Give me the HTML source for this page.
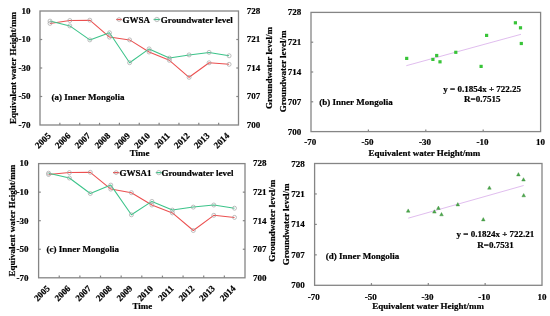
<!DOCTYPE html>
<html><head><meta charset="utf-8"><style>
html,body{margin:0;padding:0;background:#fff;width:550px;height:316px;overflow:hidden}
svg{display:block;will-change:transform}
text{font-family:"Liberation Serif", serif;font-weight:bold;fill:#000;stroke:#000;stroke-width:0.2px}
</style></head><body>
<svg width="550" height="316" viewBox="0 0 550 316">
<rect width="550" height="316" fill="#fff"/>
<rect x="40.00" y="11.00" width="198.50" height="114.00" fill="none" stroke="#858585" stroke-width="1.3"/>
<line x1="40.00" y1="39.50" x2="42.20" y2="39.50" stroke="#858585" stroke-width="1.2"/>
<line x1="236.30" y1="39.50" x2="238.50" y2="39.50" stroke="#858585" stroke-width="1.2"/>
<line x1="40.00" y1="68.00" x2="42.20" y2="68.00" stroke="#858585" stroke-width="1.2"/>
<line x1="236.30" y1="68.00" x2="238.50" y2="68.00" stroke="#858585" stroke-width="1.2"/>
<line x1="40.00" y1="96.50" x2="42.20" y2="96.50" stroke="#858585" stroke-width="1.2"/>
<line x1="236.30" y1="96.50" x2="238.50" y2="96.50" stroke="#858585" stroke-width="1.2"/>
<line x1="59.85" y1="122.80" x2="59.85" y2="125.00" stroke="#858585" stroke-width="1.2"/>
<line x1="79.70" y1="122.80" x2="79.70" y2="125.00" stroke="#858585" stroke-width="1.2"/>
<line x1="99.55" y1="122.80" x2="99.55" y2="125.00" stroke="#858585" stroke-width="1.2"/>
<line x1="119.40" y1="122.80" x2="119.40" y2="125.00" stroke="#858585" stroke-width="1.2"/>
<line x1="139.25" y1="122.80" x2="139.25" y2="125.00" stroke="#858585" stroke-width="1.2"/>
<line x1="159.10" y1="122.80" x2="159.10" y2="125.00" stroke="#858585" stroke-width="1.2"/>
<line x1="178.95" y1="122.80" x2="178.95" y2="125.00" stroke="#858585" stroke-width="1.2"/>
<line x1="198.80" y1="122.80" x2="198.80" y2="125.00" stroke="#858585" stroke-width="1.2"/>
<line x1="218.65" y1="122.80" x2="218.65" y2="125.00" stroke="#858585" stroke-width="1.2"/>
<text x="30.50" y="13.80" text-anchor="end" font-size="9" >10</text>
<text x="30.50" y="42.30" text-anchor="end" font-size="9" >-10</text>
<text x="30.50" y="70.80" text-anchor="end" font-size="9" >-30</text>
<text x="30.50" y="99.30" text-anchor="end" font-size="9" >-50</text>
<text x="30.50" y="127.80" text-anchor="end" font-size="9" >-70</text>
<text x="246.80" y="13.80" text-anchor="start" font-size="9" >728</text>
<text x="246.80" y="42.30" text-anchor="start" font-size="9" >721</text>
<text x="246.80" y="70.80" text-anchor="start" font-size="9" >714</text>
<text x="246.80" y="99.30" text-anchor="start" font-size="9" >707</text>
<text x="246.80" y="127.80" text-anchor="start" font-size="9" >700</text>
<text x="16.20" y="68.00" text-anchor="middle" font-size="9" transform="rotate(-90 16.20 68.00)">Equivalent water Height/mm</text>
<text x="272.20" y="68.00" text-anchor="middle" font-size="9" transform="rotate(-90 272.20 68.00)">Groundwater level/m</text>
<text x="51.32" y="136.30" text-anchor="end" font-size="9" transform="rotate(-45 51.32 136.30)">2005</text>
<text x="71.18" y="136.30" text-anchor="end" font-size="9" transform="rotate(-45 71.18 136.30)">2006</text>
<text x="91.03" y="136.30" text-anchor="end" font-size="9" transform="rotate(-45 91.03 136.30)">2007</text>
<text x="110.88" y="136.30" text-anchor="end" font-size="9" transform="rotate(-45 110.88 136.30)">2008</text>
<text x="130.72" y="136.30" text-anchor="end" font-size="9" transform="rotate(-45 130.72 136.30)">2009</text>
<text x="150.58" y="136.30" text-anchor="end" font-size="9" transform="rotate(-45 150.58 136.30)">2010</text>
<text x="170.43" y="136.30" text-anchor="end" font-size="9" transform="rotate(-45 170.43 136.30)">2011</text>
<text x="190.28" y="136.30" text-anchor="end" font-size="9" transform="rotate(-45 190.28 136.30)">2012</text>
<text x="210.12" y="136.30" text-anchor="end" font-size="9" transform="rotate(-45 210.12 136.30)">2013</text>
<text x="229.97" y="136.30" text-anchor="end" font-size="9" transform="rotate(-45 229.97 136.30)">2014</text>
<text x="139.60" y="156.20" text-anchor="middle" font-size="9" >Time</text>
<polyline points="50.00,23.40 69.80,20.50 89.80,20.20 109.50,37.10 129.60,39.90 149.10,52.00 169.40,60.30 189.10,77.30 209.10,62.80 229.10,64.30" fill="none" stroke="#ec5050" stroke-width="1.05" stroke-linejoin="round"/>
<polyline points="50.00,21.10 69.80,25.90 89.80,39.90 109.50,32.80 129.60,62.70 149.10,48.90 169.40,58.10 189.10,54.90 209.10,52.40 229.10,55.80" fill="none" stroke="#3cc48a" stroke-width="1.05" stroke-linejoin="round"/>
<circle cx="50.00" cy="23.40" r="2.0" fill="none" stroke="#a4a4a4" stroke-width="0.7"/>
<circle cx="69.80" cy="20.50" r="2.0" fill="none" stroke="#a4a4a4" stroke-width="0.7"/>
<circle cx="89.80" cy="20.20" r="2.0" fill="none" stroke="#a4a4a4" stroke-width="0.7"/>
<circle cx="109.50" cy="37.10" r="2.0" fill="none" stroke="#a4a4a4" stroke-width="0.7"/>
<circle cx="129.60" cy="39.90" r="2.0" fill="none" stroke="#a4a4a4" stroke-width="0.7"/>
<circle cx="149.10" cy="52.00" r="2.0" fill="none" stroke="#a4a4a4" stroke-width="0.7"/>
<circle cx="169.40" cy="60.30" r="2.0" fill="none" stroke="#a4a4a4" stroke-width="0.7"/>
<circle cx="189.10" cy="77.30" r="2.0" fill="none" stroke="#a4a4a4" stroke-width="0.7"/>
<circle cx="209.10" cy="62.80" r="2.0" fill="none" stroke="#a4a4a4" stroke-width="0.7"/>
<circle cx="229.10" cy="64.30" r="2.0" fill="none" stroke="#a4a4a4" stroke-width="0.7"/>
<circle cx="50.00" cy="21.10" r="2.0" fill="none" stroke="#a4a4a4" stroke-width="0.7"/>
<circle cx="69.80" cy="25.90" r="2.0" fill="none" stroke="#a4a4a4" stroke-width="0.7"/>
<circle cx="89.80" cy="39.90" r="2.0" fill="none" stroke="#a4a4a4" stroke-width="0.7"/>
<circle cx="109.50" cy="32.80" r="2.0" fill="none" stroke="#a4a4a4" stroke-width="0.7"/>
<circle cx="129.60" cy="62.70" r="2.0" fill="none" stroke="#a4a4a4" stroke-width="0.7"/>
<circle cx="149.10" cy="48.90" r="2.0" fill="none" stroke="#a4a4a4" stroke-width="0.7"/>
<circle cx="169.40" cy="58.10" r="2.0" fill="none" stroke="#a4a4a4" stroke-width="0.7"/>
<circle cx="189.10" cy="54.90" r="2.0" fill="none" stroke="#a4a4a4" stroke-width="0.7"/>
<circle cx="209.10" cy="52.40" r="2.0" fill="none" stroke="#a4a4a4" stroke-width="0.7"/>
<circle cx="229.10" cy="55.80" r="2.0" fill="none" stroke="#a4a4a4" stroke-width="0.7"/>
<line x1="116.20" y1="19.50" x2="121.90" y2="19.50" stroke="#ec5050" stroke-width="1.3"/>
<circle cx="119.05" cy="19.50" r="1.9" fill="none" stroke="#a4a4a4" stroke-width="0.7"/>
<text x="122.60" y="22.60" text-anchor="start" font-size="9" >GWSA</text>
<line x1="153.60" y1="19.50" x2="160.20" y2="19.50" stroke="#3cc48a" stroke-width="1.3"/>
<circle cx="156.90" cy="19.50" r="2.2" fill="none" stroke="#a4a4a4" stroke-width="0.7"/>
<text x="160.80" y="22.60" text-anchor="start" font-size="9" >Groundwater level</text>
<text x="51.60" y="99.80" text-anchor="start" font-size="9" >(a) Inner Mongolia</text>
<rect x="38.60" y="163.60" width="206.40" height="114.20" fill="none" stroke="#858585" stroke-width="1.3"/>
<line x1="38.60" y1="192.15" x2="40.80" y2="192.15" stroke="#858585" stroke-width="1.2"/>
<line x1="242.80" y1="192.15" x2="245.00" y2="192.15" stroke="#858585" stroke-width="1.2"/>
<line x1="38.60" y1="220.70" x2="40.80" y2="220.70" stroke="#858585" stroke-width="1.2"/>
<line x1="242.80" y1="220.70" x2="245.00" y2="220.70" stroke="#858585" stroke-width="1.2"/>
<line x1="38.60" y1="249.25" x2="40.80" y2="249.25" stroke="#858585" stroke-width="1.2"/>
<line x1="242.80" y1="249.25" x2="245.00" y2="249.25" stroke="#858585" stroke-width="1.2"/>
<line x1="59.24" y1="275.60" x2="59.24" y2="277.80" stroke="#858585" stroke-width="1.2"/>
<line x1="79.88" y1="275.60" x2="79.88" y2="277.80" stroke="#858585" stroke-width="1.2"/>
<line x1="100.52" y1="275.60" x2="100.52" y2="277.80" stroke="#858585" stroke-width="1.2"/>
<line x1="121.16" y1="275.60" x2="121.16" y2="277.80" stroke="#858585" stroke-width="1.2"/>
<line x1="141.80" y1="275.60" x2="141.80" y2="277.80" stroke="#858585" stroke-width="1.2"/>
<line x1="162.44" y1="275.60" x2="162.44" y2="277.80" stroke="#858585" stroke-width="1.2"/>
<line x1="183.08" y1="275.60" x2="183.08" y2="277.80" stroke="#858585" stroke-width="1.2"/>
<line x1="203.72" y1="275.60" x2="203.72" y2="277.80" stroke="#858585" stroke-width="1.2"/>
<line x1="224.36" y1="275.60" x2="224.36" y2="277.80" stroke="#858585" stroke-width="1.2"/>
<text x="28.60" y="166.40" text-anchor="end" font-size="9" >10</text>
<text x="28.60" y="194.95" text-anchor="end" font-size="9" >-10</text>
<text x="28.60" y="223.50" text-anchor="end" font-size="9" >-30</text>
<text x="28.60" y="252.05" text-anchor="end" font-size="9" >-50</text>
<text x="28.60" y="280.60" text-anchor="end" font-size="9" >-70</text>
<text x="253.00" y="166.40" text-anchor="start" font-size="9" >728</text>
<text x="253.00" y="194.95" text-anchor="start" font-size="9" >721</text>
<text x="253.00" y="223.50" text-anchor="start" font-size="9" >714</text>
<text x="253.00" y="252.05" text-anchor="start" font-size="9" >707</text>
<text x="253.00" y="280.60" text-anchor="start" font-size="9" >700</text>
<text x="15.30" y="220.70" text-anchor="middle" font-size="9" transform="rotate(-90 15.30 220.70)">Equivalent water Height/mm</text>
<text x="275.30" y="220.70" text-anchor="middle" font-size="9" transform="rotate(-90 275.30 220.70)">Groundwater level/m</text>
<text x="50.42" y="289.00" text-anchor="end" font-size="9" transform="rotate(-45 50.42 289.00)">2005</text>
<text x="71.06" y="289.00" text-anchor="end" font-size="9" transform="rotate(-45 71.06 289.00)">2006</text>
<text x="91.70" y="289.00" text-anchor="end" font-size="9" transform="rotate(-45 91.70 289.00)">2007</text>
<text x="112.34" y="289.00" text-anchor="end" font-size="9" transform="rotate(-45 112.34 289.00)">2008</text>
<text x="132.98" y="289.00" text-anchor="end" font-size="9" transform="rotate(-45 132.98 289.00)">2009</text>
<text x="153.62" y="289.00" text-anchor="end" font-size="9" transform="rotate(-45 153.62 289.00)">2010</text>
<text x="174.26" y="289.00" text-anchor="end" font-size="9" transform="rotate(-45 174.26 289.00)">2011</text>
<text x="194.90" y="289.00" text-anchor="end" font-size="9" transform="rotate(-45 194.90 289.00)">2012</text>
<text x="215.54" y="289.00" text-anchor="end" font-size="9" transform="rotate(-45 215.54 289.00)">2013</text>
<text x="236.18" y="289.00" text-anchor="end" font-size="9" transform="rotate(-45 236.18 289.00)">2014</text>
<text x="142.30" y="308.60" text-anchor="middle" font-size="9" >Time</text>
<polyline points="48.60,174.50 69.40,172.60 90.30,172.30 110.80,189.10 131.40,192.70 151.90,205.00 172.40,212.90 193.30,230.50 213.80,215.30 234.50,217.40" fill="none" stroke="#ec5050" stroke-width="1.05" stroke-linejoin="round"/>
<polyline points="48.60,173.20 69.40,178.00 90.30,193.50 110.80,185.10 131.40,214.80 151.90,201.40 172.40,210.10 193.30,207.10 213.80,205.00 234.50,208.20" fill="none" stroke="#3cc48a" stroke-width="1.05" stroke-linejoin="round"/>
<circle cx="48.60" cy="174.50" r="2.0" fill="none" stroke="#a4a4a4" stroke-width="0.7"/>
<circle cx="69.40" cy="172.60" r="2.0" fill="none" stroke="#a4a4a4" stroke-width="0.7"/>
<circle cx="90.30" cy="172.30" r="2.0" fill="none" stroke="#a4a4a4" stroke-width="0.7"/>
<circle cx="110.80" cy="189.10" r="2.0" fill="none" stroke="#a4a4a4" stroke-width="0.7"/>
<circle cx="131.40" cy="192.70" r="2.0" fill="none" stroke="#a4a4a4" stroke-width="0.7"/>
<circle cx="151.90" cy="205.00" r="2.0" fill="none" stroke="#a4a4a4" stroke-width="0.7"/>
<circle cx="172.40" cy="212.90" r="2.0" fill="none" stroke="#a4a4a4" stroke-width="0.7"/>
<circle cx="193.30" cy="230.50" r="2.0" fill="none" stroke="#a4a4a4" stroke-width="0.7"/>
<circle cx="213.80" cy="215.30" r="2.0" fill="none" stroke="#a4a4a4" stroke-width="0.7"/>
<circle cx="234.50" cy="217.40" r="2.0" fill="none" stroke="#a4a4a4" stroke-width="0.7"/>
<circle cx="48.60" cy="173.20" r="2.0" fill="none" stroke="#a4a4a4" stroke-width="0.7"/>
<circle cx="69.40" cy="178.00" r="2.0" fill="none" stroke="#a4a4a4" stroke-width="0.7"/>
<circle cx="90.30" cy="193.50" r="2.0" fill="none" stroke="#a4a4a4" stroke-width="0.7"/>
<circle cx="110.80" cy="185.10" r="2.0" fill="none" stroke="#a4a4a4" stroke-width="0.7"/>
<circle cx="131.40" cy="214.80" r="2.0" fill="none" stroke="#a4a4a4" stroke-width="0.7"/>
<circle cx="151.90" cy="201.40" r="2.0" fill="none" stroke="#a4a4a4" stroke-width="0.7"/>
<circle cx="172.40" cy="210.10" r="2.0" fill="none" stroke="#a4a4a4" stroke-width="0.7"/>
<circle cx="193.30" cy="207.10" r="2.0" fill="none" stroke="#a4a4a4" stroke-width="0.7"/>
<circle cx="213.80" cy="205.00" r="2.0" fill="none" stroke="#a4a4a4" stroke-width="0.7"/>
<circle cx="234.50" cy="208.20" r="2.0" fill="none" stroke="#a4a4a4" stroke-width="0.7"/>
<line x1="113.00" y1="172.60" x2="119.30" y2="172.60" stroke="#ec5050" stroke-width="1.3"/>
<circle cx="116.15" cy="172.60" r="1.9" fill="none" stroke="#a4a4a4" stroke-width="0.7"/>
<text x="119.50" y="175.50" text-anchor="start" font-size="9" >GWSA1</text>
<line x1="155.80" y1="172.60" x2="161.80" y2="172.60" stroke="#3cc48a" stroke-width="1.3"/>
<circle cx="158.80" cy="172.60" r="2.2" fill="none" stroke="#a4a4a4" stroke-width="0.7"/>
<text x="161.50" y="175.50" text-anchor="start" font-size="9" >Groundwater level</text>
<text x="46.60" y="252.20" text-anchor="start" font-size="9" >(c) Inner Mongolia</text>
<rect x="311.00" y="12.40" width="229.60" height="119.20" fill="none" stroke="#858585" stroke-width="1.3"/>
<line x1="311.00" y1="42.20" x2="313.20" y2="42.20" stroke="#858585" stroke-width="1.2"/>
<line x1="311.00" y1="72.00" x2="313.20" y2="72.00" stroke="#858585" stroke-width="1.2"/>
<line x1="311.00" y1="101.80" x2="313.20" y2="101.80" stroke="#858585" stroke-width="1.2"/>
<line x1="368.40" y1="129.40" x2="368.40" y2="131.60" stroke="#858585" stroke-width="1.2"/>
<line x1="425.80" y1="129.40" x2="425.80" y2="131.60" stroke="#858585" stroke-width="1.2"/>
<line x1="483.20" y1="129.40" x2="483.20" y2="131.60" stroke="#858585" stroke-width="1.2"/>
<text x="301.20" y="15.40" text-anchor="end" font-size="9" >728</text>
<text x="301.20" y="45.20" text-anchor="end" font-size="9" >721</text>
<text x="301.20" y="75.00" text-anchor="end" font-size="9" >714</text>
<text x="301.20" y="104.80" text-anchor="end" font-size="9" >707</text>
<text x="301.20" y="134.60" text-anchor="end" font-size="9" >700</text>
<text x="310.20" y="145.20" text-anchor="middle" font-size="9" >-70</text>
<text x="367.60" y="145.20" text-anchor="middle" font-size="9" >-50</text>
<text x="425.00" y="145.20" text-anchor="middle" font-size="9" >-30</text>
<text x="482.40" y="145.20" text-anchor="middle" font-size="9" >-10</text>
<text x="540.60" y="145.20" text-anchor="middle" font-size="9" >10</text>
<text x="285.90" y="71.40" text-anchor="middle" font-size="9" transform="rotate(-90 285.90 71.40)">Groundwater level/m</text>
<text x="424.40" y="155.60" text-anchor="middle" font-size="9" >Equivalent water Height/mm</text>
<line x1="406.30" y1="65.70" x2="521.00" y2="34.30" stroke="#d8acea" stroke-width="0.8"/>
<rect x="405.10" y="56.80" width="3.2" height="3.2" fill="#38c438"/>
<rect x="431.30" y="57.80" width="3.2" height="3.2" fill="#38c438"/>
<rect x="435.10" y="53.90" width="3.2" height="3.2" fill="#38c438"/>
<rect x="438.40" y="60.20" width="3.2" height="3.2" fill="#38c438"/>
<rect x="454.20" y="50.70" width="3.2" height="3.2" fill="#38c438"/>
<rect x="485.00" y="33.80" width="3.2" height="3.2" fill="#38c438"/>
<rect x="513.80" y="21.20" width="3.2" height="3.2" fill="#38c438"/>
<rect x="518.90" y="26.20" width="3.2" height="3.2" fill="#38c438"/>
<rect x="519.70" y="41.90" width="3.2" height="3.2" fill="#38c438"/>
<rect x="479.50" y="64.80" width="3.2" height="3.2" fill="#38c438"/>
<text x="482.20" y="91.60" text-anchor="middle" font-size="9" >y = 0.1854x + 722.25</text>
<text x="482.20" y="101.60" text-anchor="middle" font-size="9" >R=0.7515</text>
<text x="319.30" y="104.60" text-anchor="start" font-size="9" >(b) Inner Mongolia</text>
<rect x="314.60" y="163.50" width="227.40" height="121.80" fill="none" stroke="#858585" stroke-width="1.3"/>
<line x1="314.60" y1="193.95" x2="316.80" y2="193.95" stroke="#858585" stroke-width="1.2"/>
<line x1="314.60" y1="224.40" x2="316.80" y2="224.40" stroke="#858585" stroke-width="1.2"/>
<line x1="314.60" y1="254.85" x2="316.80" y2="254.85" stroke="#858585" stroke-width="1.2"/>
<line x1="371.45" y1="283.10" x2="371.45" y2="285.30" stroke="#858585" stroke-width="1.2"/>
<line x1="428.30" y1="283.10" x2="428.30" y2="285.30" stroke="#858585" stroke-width="1.2"/>
<line x1="485.15" y1="283.10" x2="485.15" y2="285.30" stroke="#858585" stroke-width="1.2"/>
<text x="304.70" y="166.50" text-anchor="end" font-size="9" >728</text>
<text x="304.70" y="196.95" text-anchor="end" font-size="9" >721</text>
<text x="304.70" y="227.40" text-anchor="end" font-size="9" >714</text>
<text x="304.70" y="257.85" text-anchor="end" font-size="9" >707</text>
<text x="304.70" y="288.30" text-anchor="end" font-size="9" >700</text>
<text x="313.80" y="299.50" text-anchor="middle" font-size="9" >-70</text>
<text x="370.65" y="299.50" text-anchor="middle" font-size="9" >-50</text>
<text x="427.50" y="299.50" text-anchor="middle" font-size="9" >-30</text>
<text x="484.35" y="299.50" text-anchor="middle" font-size="9" >-10</text>
<text x="542.00" y="299.50" text-anchor="middle" font-size="9" >10</text>
<text x="289.20" y="224.40" text-anchor="middle" font-size="9" transform="rotate(-90 289.20 224.40)">Groundwater level/m</text>
<text x="428.20" y="308.60" text-anchor="middle" font-size="9" >Equivalent water Height/mm</text>
<line x1="408.20" y1="218.20" x2="523.70" y2="185.50" stroke="#d8acea" stroke-width="0.8"/>
<polygon points="408.20,208.90 410.00,212.20 406.40,212.20" fill="#4aa84a" stroke="#3a8a3a" stroke-width="0.4"/>
<polygon points="434.40,209.80 436.20,213.10 432.60,213.10" fill="#4aa84a" stroke="#3a8a3a" stroke-width="0.4"/>
<polygon points="438.40,206.10 440.20,209.40 436.60,209.40" fill="#4aa84a" stroke="#3a8a3a" stroke-width="0.4"/>
<polygon points="441.50,212.50 443.30,215.80 439.70,215.80" fill="#4aa84a" stroke="#3a8a3a" stroke-width="0.4"/>
<polygon points="457.80,202.60 459.60,205.90 456.00,205.90" fill="#4aa84a" stroke="#3a8a3a" stroke-width="0.4"/>
<polygon points="489.40,185.90 491.20,189.20 487.60,189.20" fill="#4aa84a" stroke="#3a8a3a" stroke-width="0.4"/>
<polygon points="518.40,172.60 520.20,175.90 516.60,175.90" fill="#4aa84a" stroke="#3a8a3a" stroke-width="0.4"/>
<polygon points="523.50,177.70 525.30,181.00 521.70,181.00" fill="#4aa84a" stroke="#3a8a3a" stroke-width="0.4"/>
<polygon points="523.70,193.50 525.50,196.80 521.90,196.80" fill="#4aa84a" stroke="#3a8a3a" stroke-width="0.4"/>
<polygon points="483.30,217.60 485.10,220.90 481.50,220.90" fill="#4aa84a" stroke="#3a8a3a" stroke-width="0.4"/>
<text x="495.50" y="236.80" text-anchor="middle" font-size="9" >y = 0.1824x + 722.21</text>
<text x="495.50" y="247.70" text-anchor="middle" font-size="9" >R=0.7531</text>
<text x="325.80" y="259.00" text-anchor="start" font-size="9" >(d) Inner Mongolia</text>
</svg>
</body></html>
